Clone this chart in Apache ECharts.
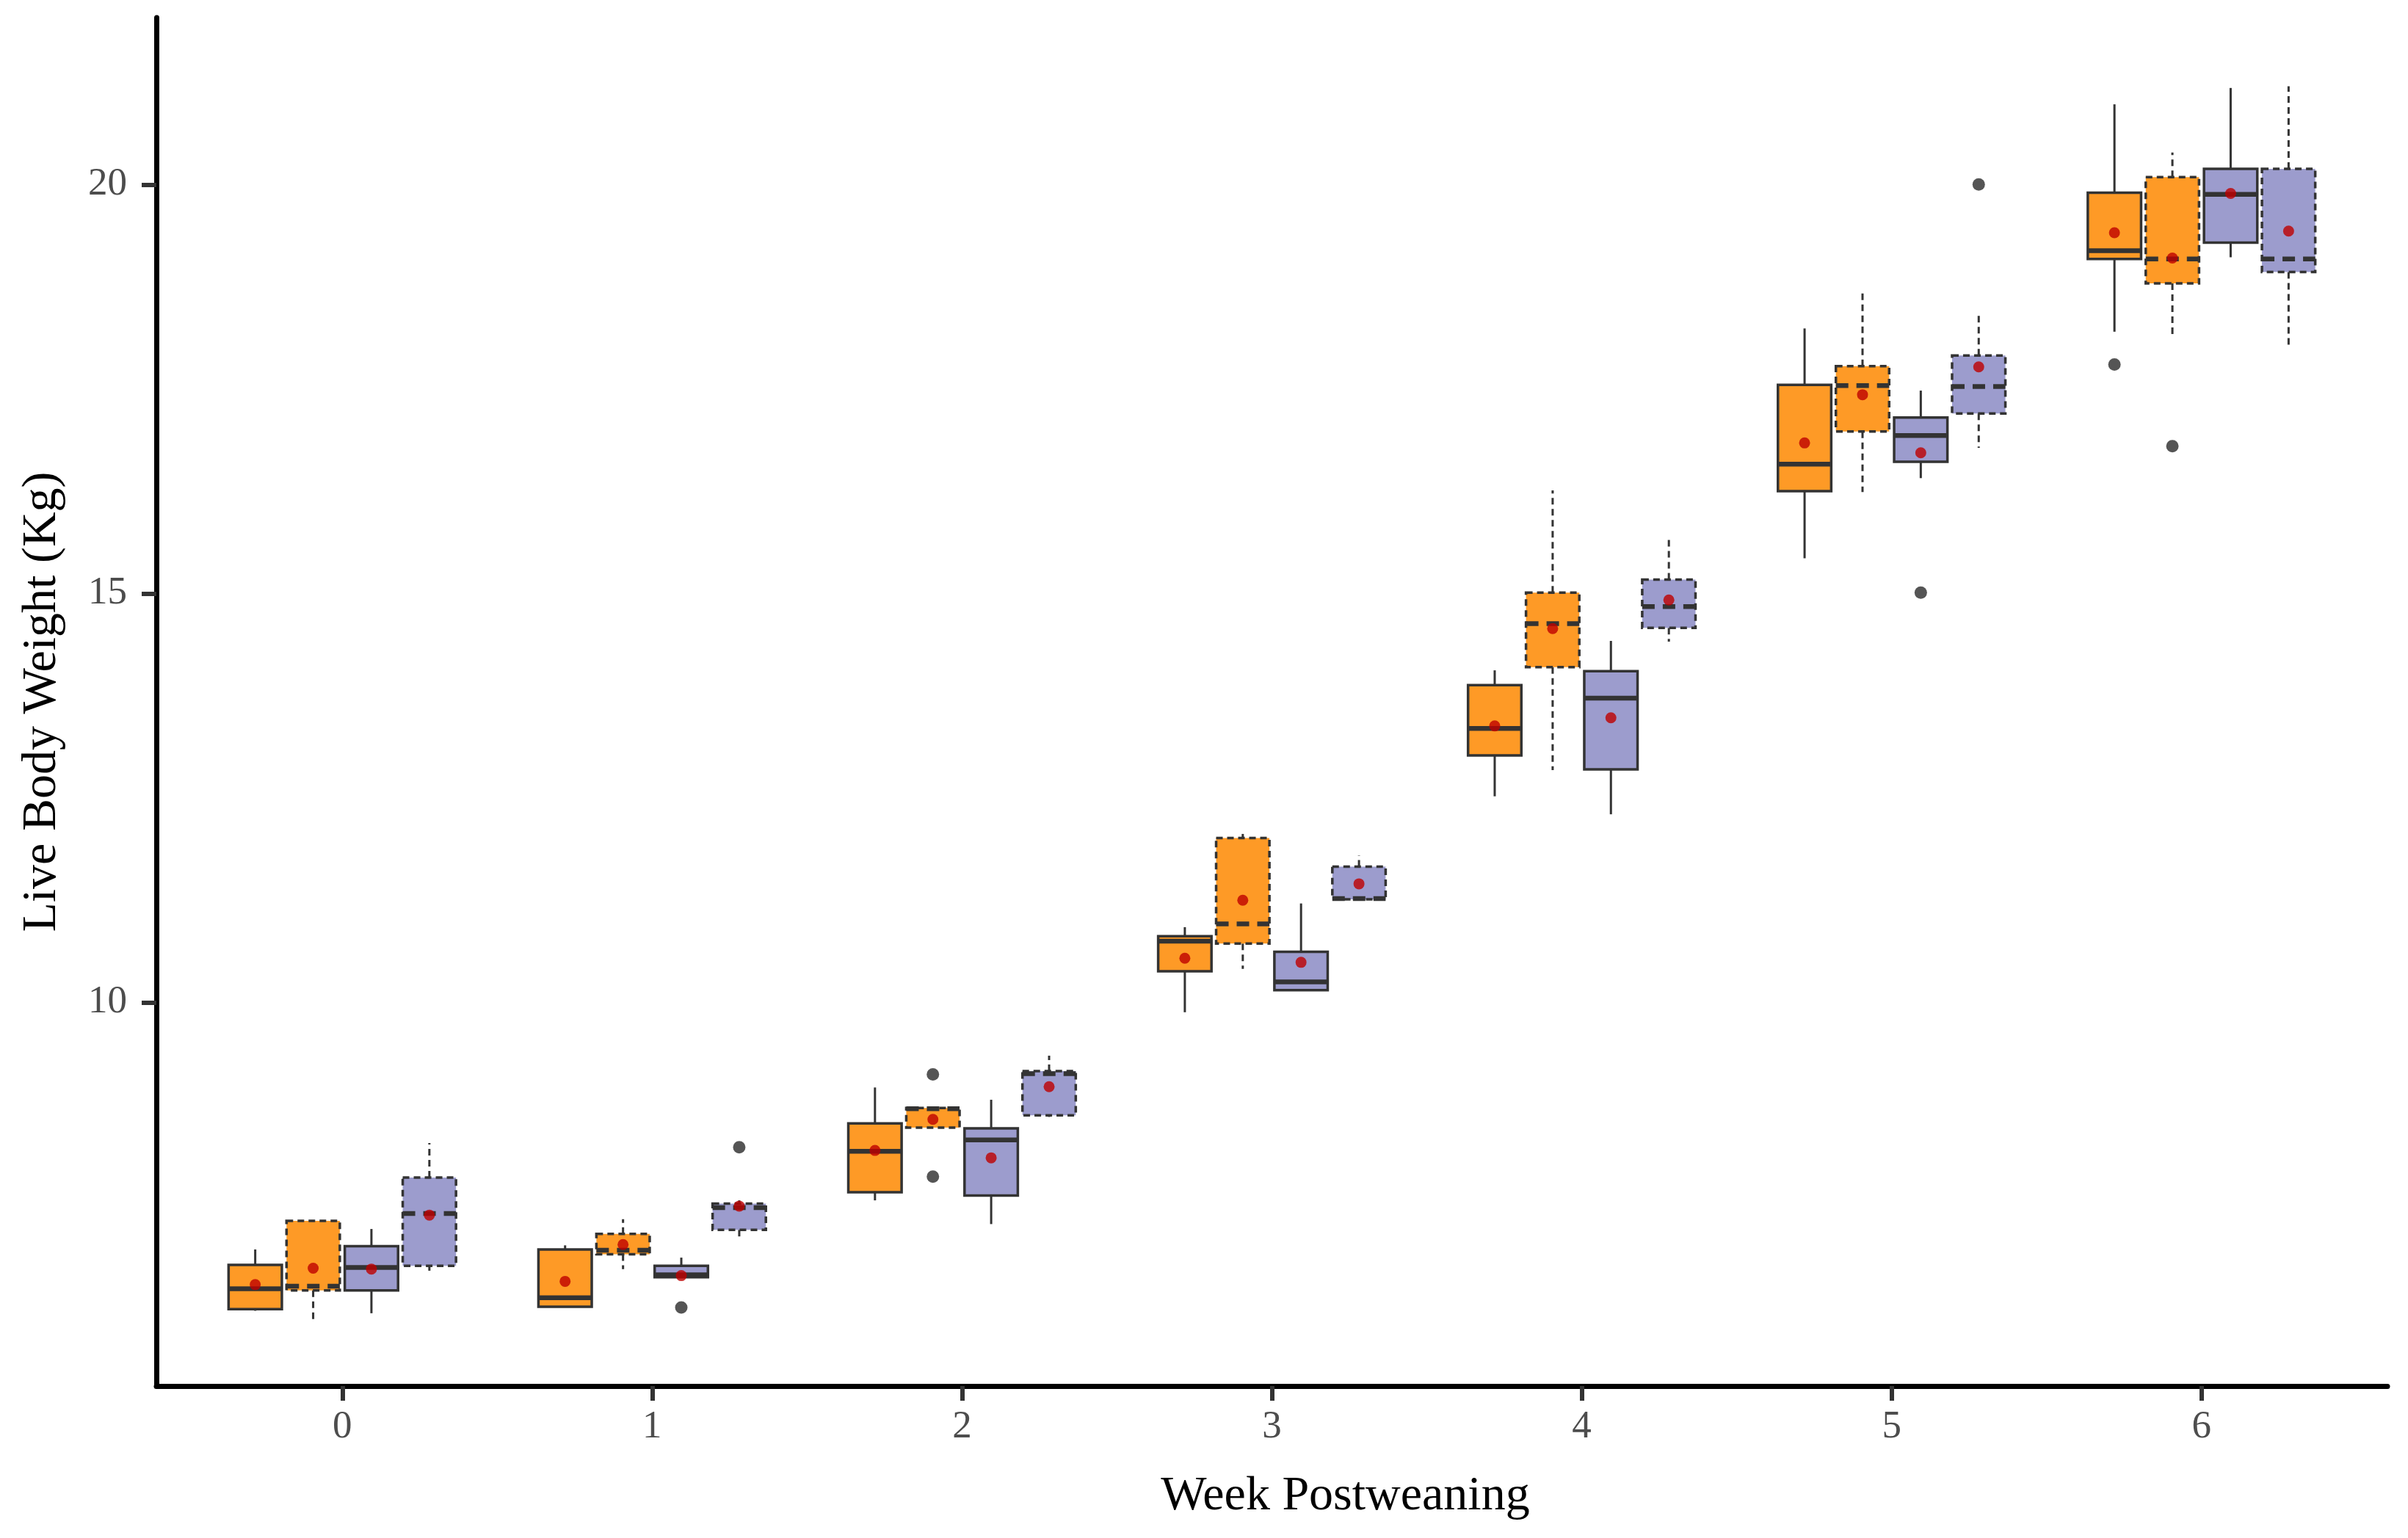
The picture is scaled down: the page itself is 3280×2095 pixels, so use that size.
<!DOCTYPE html>
<html><head><meta charset="utf-8">
<script src="https://cdn.jsdelivr.net/npm/echarts@6/dist/echarts.min.js"></script>
<style>html,body{margin:0;padding:0;background:#fff}#c{width:3280px;height:2095px}</style>
</head><body><div id="c"></div>
<script>
// ---- data ----
const weeks = [0, 1, 2, 3, 4, 5, 6];
const xTickLabels = ['0', '1', '2', '3', '4', '5', '6'];
const yTickValues = [10, 15, 20];
// each row: [lower whisker, Q1, median, Q3, upper whisker]
const orangeSolid = [
  [6.23, 6.25, 6.50, 6.79, 6.98],
  [6.28, 6.28, 6.39, 6.98, 7.03],
  [7.58, 7.68, 8.18, 8.52, 8.96],
  [9.88, 10.38, 10.75, 10.81, 10.92],
  [12.52, 13.02, 13.35, 13.88, 14.06],
  [15.43, 16.25, 16.58, 17.55, 18.24],
  [18.20, 19.09, 19.19, 19.90, 20.98]
];
const orangeDashed = [
  [6.09, 6.48, 6.53, 7.33, 7.33],
  [6.74, 6.92, 6.97, 7.17, 7.35],
  [8.47, 8.47, 8.70, 8.71, 8.71],
  [10.41, 10.72, 10.96, 12.01, 12.06],
  [12.84, 14.10, 14.63, 15.01, 16.26],
  [16.24, 16.98, 17.54, 17.78, 18.69],
  [18.13, 18.79, 19.09, 20.09, 20.39]
];
const purpleSolid = [
  [6.20, 6.48, 6.76, 7.02, 7.23],
  [6.64, 6.64, 6.67, 6.78, 6.88],
  [7.29, 7.64, 8.32, 8.46, 8.81],
  [10.15, 10.15, 10.25, 10.62, 11.21],
  [12.30, 12.85, 13.72, 14.05, 14.42],
  [16.41, 16.61, 16.93, 17.15, 17.48],
  [19.11, 19.29, 19.88, 20.19, 21.18]
];
const purpleDashed = [
  [6.72, 6.78, 7.42, 7.86, 8.28],
  [7.09, 7.22, 7.49, 7.54, 7.58],
  [8.60, 8.62, 9.13, 9.16, 9.35],
  [11.26, 11.26, 11.27, 11.66, 11.80],
  [14.41, 14.58, 14.84, 15.17, 15.69],
  [16.78, 17.20, 17.53, 17.91, 18.41],
  [18.04, 18.93, 19.09, 20.19, 21.20]
];
const meansOrangeSolid = [6.55, 6.59, 8.19, 10.54, 13.38, 16.84, 19.41];
const meansOrangeDashed = [6.75, 7.04, 8.57, 11.25, 14.57, 17.43, 19.10];
const meansPurpleSolid = [6.74, 6.66, 8.10, 10.49, 13.48, 16.72, 19.89];
const meansPurpleDashed = [7.40, 7.51, 8.97, 11.45, 14.92, 17.77, 19.43];
// [week, value]
const outliersOrangeSolid = [[6, 17.80]];
const outliersOrangeDashed = [[2, 9.12], [2, 7.87], [6, 16.80]];
const outliersPurpleSolid = [[1, 6.27], [5, 15.01]];
const outliersPurpleDashed = [[1, 8.23], [5, 20.00]];

// ---- layout / style ----
const ORANGE = '#FE9A26', PURPLE = '#9C9CCD', EDGE = '#333333';
const BOX_W = 0.172;
const groups = [
  { stats: orangeSolid, means: meansOrangeSolid, outs: outliersOrangeSolid, fill: ORANGE, dashed: false, off: -0.281 },
  { stats: orangeDashed, means: meansOrangeDashed, outs: outliersOrangeDashed, fill: ORANGE, dashed: true, off: -0.094 },
  { stats: purpleSolid, means: meansPurpleSolid, outs: outliersPurpleSolid, fill: PURPLE, dashed: false, off: 0.094 },
  { stats: purpleDashed, means: meansPurpleDashed, outs: outliersPurpleDashed, fill: PURPLE, dashed: true, off: 0.281 }
];

function makeRender(fill, dashed) {
  return function (params, api) {
    const x = api.value(0);
    const lo = api.value(1), q1 = api.value(2), md = api.value(3), q3 = api.value(4), hi = api.value(5);
    const hw = api.size([BOX_W, 0])[0] / 2;
    const pm = api.coord([x, md]);
    const cx = pm[0];
    const yLo = api.coord([x, lo])[1], yQ1 = api.coord([x, q1])[1];
    const yQ3 = api.coord([x, q3])[1], yHi = api.coord([x, hi])[1];
    const dash = dashed ? [9, 6] : null;
    const mdash = dashed ? [17, 11] : null;
    const ch = [];
    if (hi > q3) ch.push({ type: 'line', shape: { x1: cx, y1: yQ3, x2: cx, y2: yHi }, style: { stroke: EDGE, lineWidth: 3, lineDash: dash } });
    if (lo < q1) ch.push({ type: 'line', shape: { x1: cx, y1: yQ1, x2: cx, y2: yLo }, style: { stroke: EDGE, lineWidth: 3, lineDash: dash } });
    ch.push({ type: 'rect', shape: { x: cx - hw, y: yQ3, width: 2 * hw, height: yQ1 - yQ3 }, style: { fill: fill, stroke: EDGE, lineWidth: 3.5, lineDash: dash } });
    ch.push({ type: 'line', shape: { x1: cx - hw, y1: pm[1], x2: cx + hw, y2: pm[1] }, style: { stroke: EDGE, lineWidth: 6.5, lineDash: mdash } });
    return { type: 'group', children: ch };
  };
}

const series = [];
groups.forEach(function (g) {
  series.push({
    type: 'custom',
    renderItem: makeRender(g.fill, g.dashed),
    encode: { x: 0, y: [1, 2, 3, 4, 5] },
    data: g.stats.map(function (s, i) { return [weeks[i] + g.off].concat(s); }),
    z: 2
  });
});
groups.forEach(function (g) {
  series.push({
    type: 'scatter',
    symbol: 'circle',
    symbolSize: 17,
    itemStyle: { color: '#2A2A2A' },
    data: g.outs.map(function (o) { return [o[0] + g.off, o[1]]; }),
    z: 4
  });
});
groups.forEach(function (g) {
  series.push({
    type: 'scatter',
    symbol: 'circle',
    symbolSize: 15,
    itemStyle: { color: '#BE0000' },
    data: g.means.map(function (m, i) { return [weeks[i] + g.off, m]; }),
    z: 5
  });
});

const FONT = 'Liberation Serif';
const chart = echarts.init(document.getElementById('c'), null, { renderer: 'canvas' });
chart.setOption({
  animation: false,
  backgroundColor: '#ffffff',
  grid: { left: 213, right: 28, top: 24, bottom: 207, containLabel: false },
  xAxis: {
    type: 'value', min: -0.6, max: 6.6,
    name: 'Week Postweaning', nameLocation: 'middle', nameGap: 118,
    nameTextStyle: { fontFamily: FONT, fontSize: 66, color: '#000', padding: [0, 0, 0, 200] },
    axisLine: { show: true, onZero: false, lineStyle: { color: '#000', width: 7 } },
    axisTick: { show: true, customValues: weeks, length: 20, lineStyle: { color: EDGE, width: 6 } },
    axisLabel: { customValues: weeks, formatter: function (v) { return xTickLabels[Math.round(v)]; }, margin: 30, fontFamily: FONT, fontSize: 53, color: '#4D4D4D' },
    splitLine: { show: false }
  },
  yAxis: {
    type: 'value', min: 5.31, max: 22.04,
    name: 'Live Body Weight (Kg)', nameLocation: 'middle', nameGap: 122,
    nameTextStyle: { fontFamily: FONT, fontSize: 66, color: '#000' },
    axisLine: { show: true, onZero: false, lineStyle: { color: '#000', width: 7 } },
    axisTick: { show: true, customValues: yTickValues, length: 20, lineStyle: { color: EDGE, width: 6 } },
    axisLabel: { customValues: yTickValues, margin: 40, fontFamily: FONT, fontSize: 53, color: '#4D4D4D' },
    splitLine: { show: false }
  },
  series: series
});
</script>
</body></html>
